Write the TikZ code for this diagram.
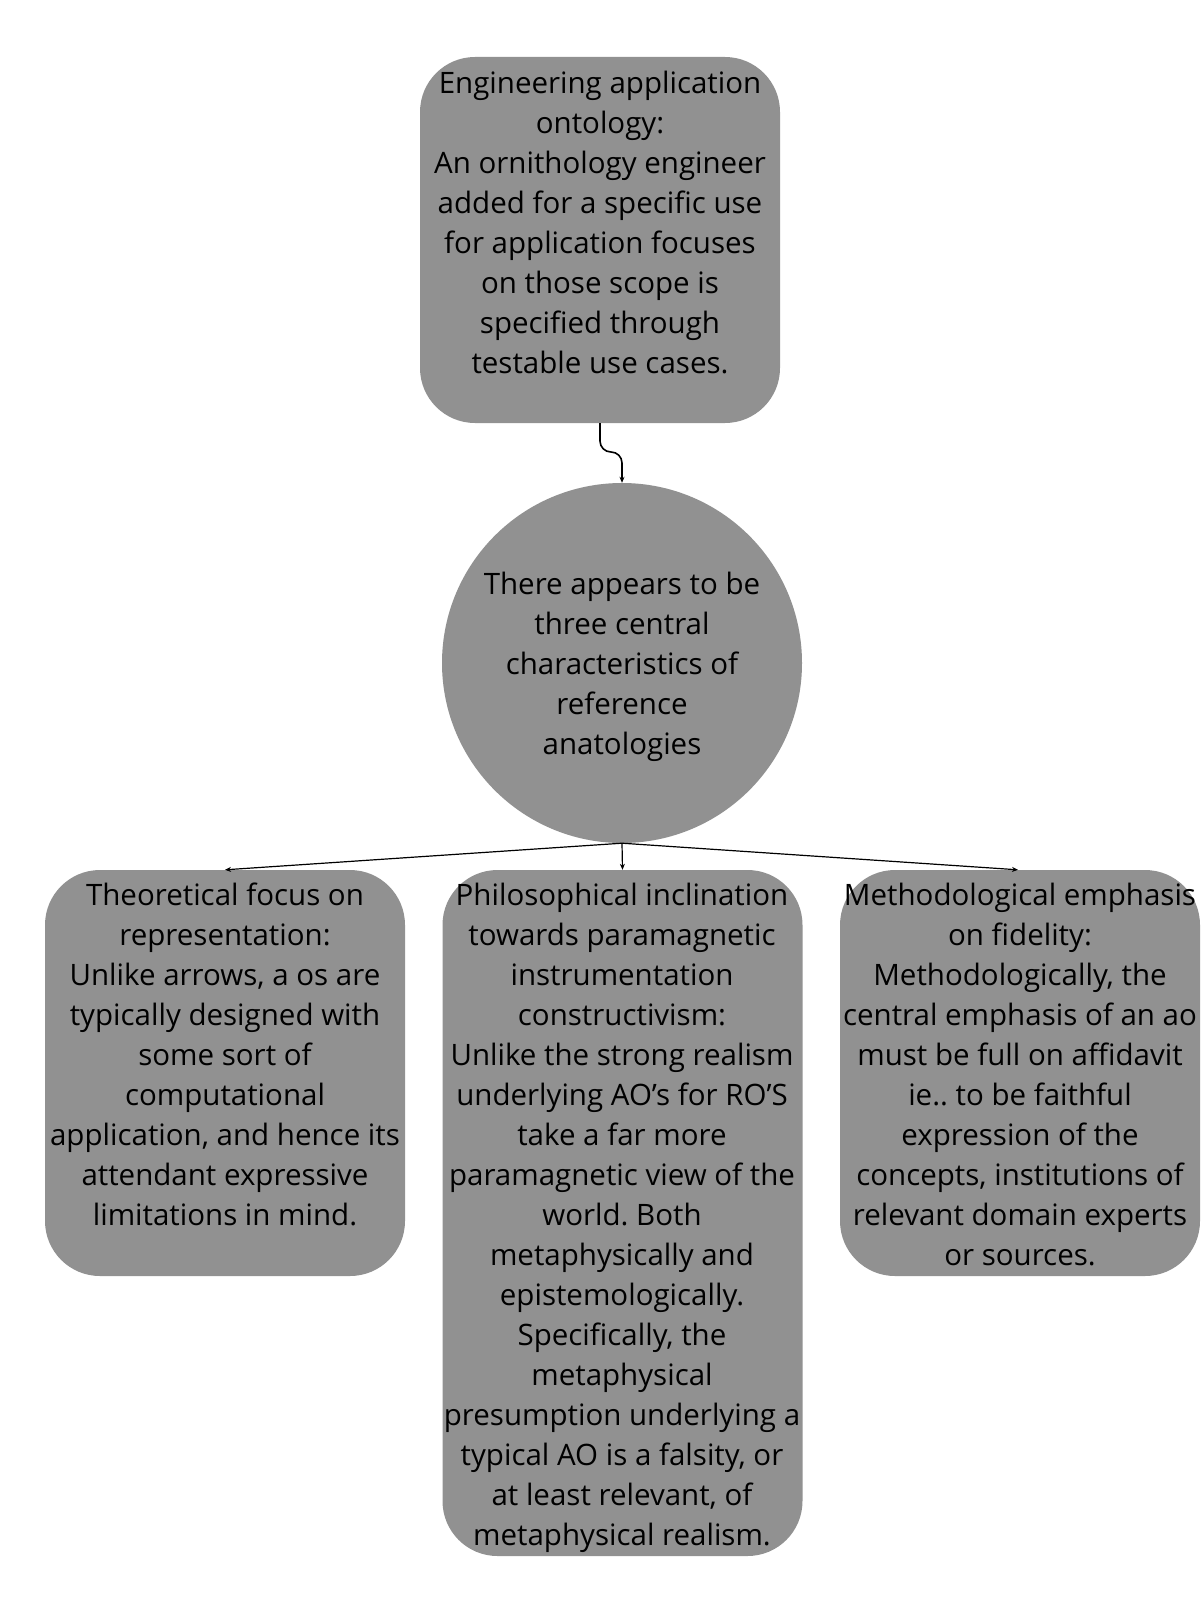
\documentclass[tikz,border=0pt]{standalone}
\usepackage{fontspec}
\setmainfont{Open Sans}
\frenchspacing
\usetikzlibrary{arrows.meta}
\definecolor{boxgray}{RGB}{145,145,145}
\tikzset{
  card/.style={fill=boxgray, draw=none, rounded corners=55pt, minimum width=360pt, inner sep=0pt},
  disc/.style={circle, fill=boxgray, draw=none, minimum size=360pt, inner sep=0pt},
  txt/.style={align=center, inner sep=0pt, font=\fontsize{29.5}{40}\selectfont\frenchspacing, text=black},
  link/.style={draw=black, line width=1.2pt, -{Stealth[length=6pt,width=5pt]}},
}
\begin{document}
\begin{tikzpicture}[x=1pt,y=-1pt]
\useasboundingbox[fill=white] (0,0) rectangle (1200,1600);
\node[card, minimum height=366pt] (top) at (600,240) {};
\node[disc] (circ) at (622,663) {};
\node[card, minimum height=406pt] (left) at (225,1073) {};
\node[card, minimum height=686pt] (mid) at (622.5,1213) {};
\node[card, minimum height=406pt] (right) at (1020,1073) {};

\node[txt, anchor=north] (toptxt) at (600,71) {Engineering application\\ ontology:\\ An ornithology engineer\\ added for a specific use\\ for application focuses\\ on those scope is\\ specified through\\ testable use cases.};
\node[txt] (circtxt) at (622,667) {There appears to be\\ three central\\ characteristics of\\ reference\\ anatologies};
\node[txt, anchor=north] (lefttxt) at (225,883) {Theoretical focus on\\ representation:\\ Unlike arrows, a os are\\ typically designed with\\ some sort of\\ computational\\ application, and hence its\\ attendant expressive\\ limitations in mind.};
\node[txt, anchor=north] (midtxt) at (622,883) {Philosophical inclination\\ towards paramagnetic\\ instrumentation\\ constructivism:\\ Unlike the strong realism\\ underlying AO’s for RO’S\\ take a far more\\ paramagnetic view of the\\ world. Both\\ metaphysically and\\ epistemologically.\\ Specifically, the\\ metaphysical\\ presumption underlying a\\ typical AO is a falsity, or\\ at least relevant, of\\ metaphysical realism.};
\node[txt, anchor=north] (righttxt) at (1020,883) {Methodological emphasis\\ on fidelity:\\ Methodologically, the\\ central emphasis of an ao\\ must be full on affidavit\\ ie.. to be faithful\\ expression of the\\ concepts, institutions of\\ relevant domain experts\\ or sources.};

\coordinate (bend) at (600,452);
\draw[link, line width=1.6pt, rounded corners=11pt] (top.south) -- (bend) -- (bend -| circ.north) -- (circ.north);
\draw[link] (circ.south) -- (left.north);
\draw[link] (circ.south) -- (mid.north);
\draw[link] (circ.south) -- (right.north -| 1018,0);
\end{tikzpicture}
\end{document}
